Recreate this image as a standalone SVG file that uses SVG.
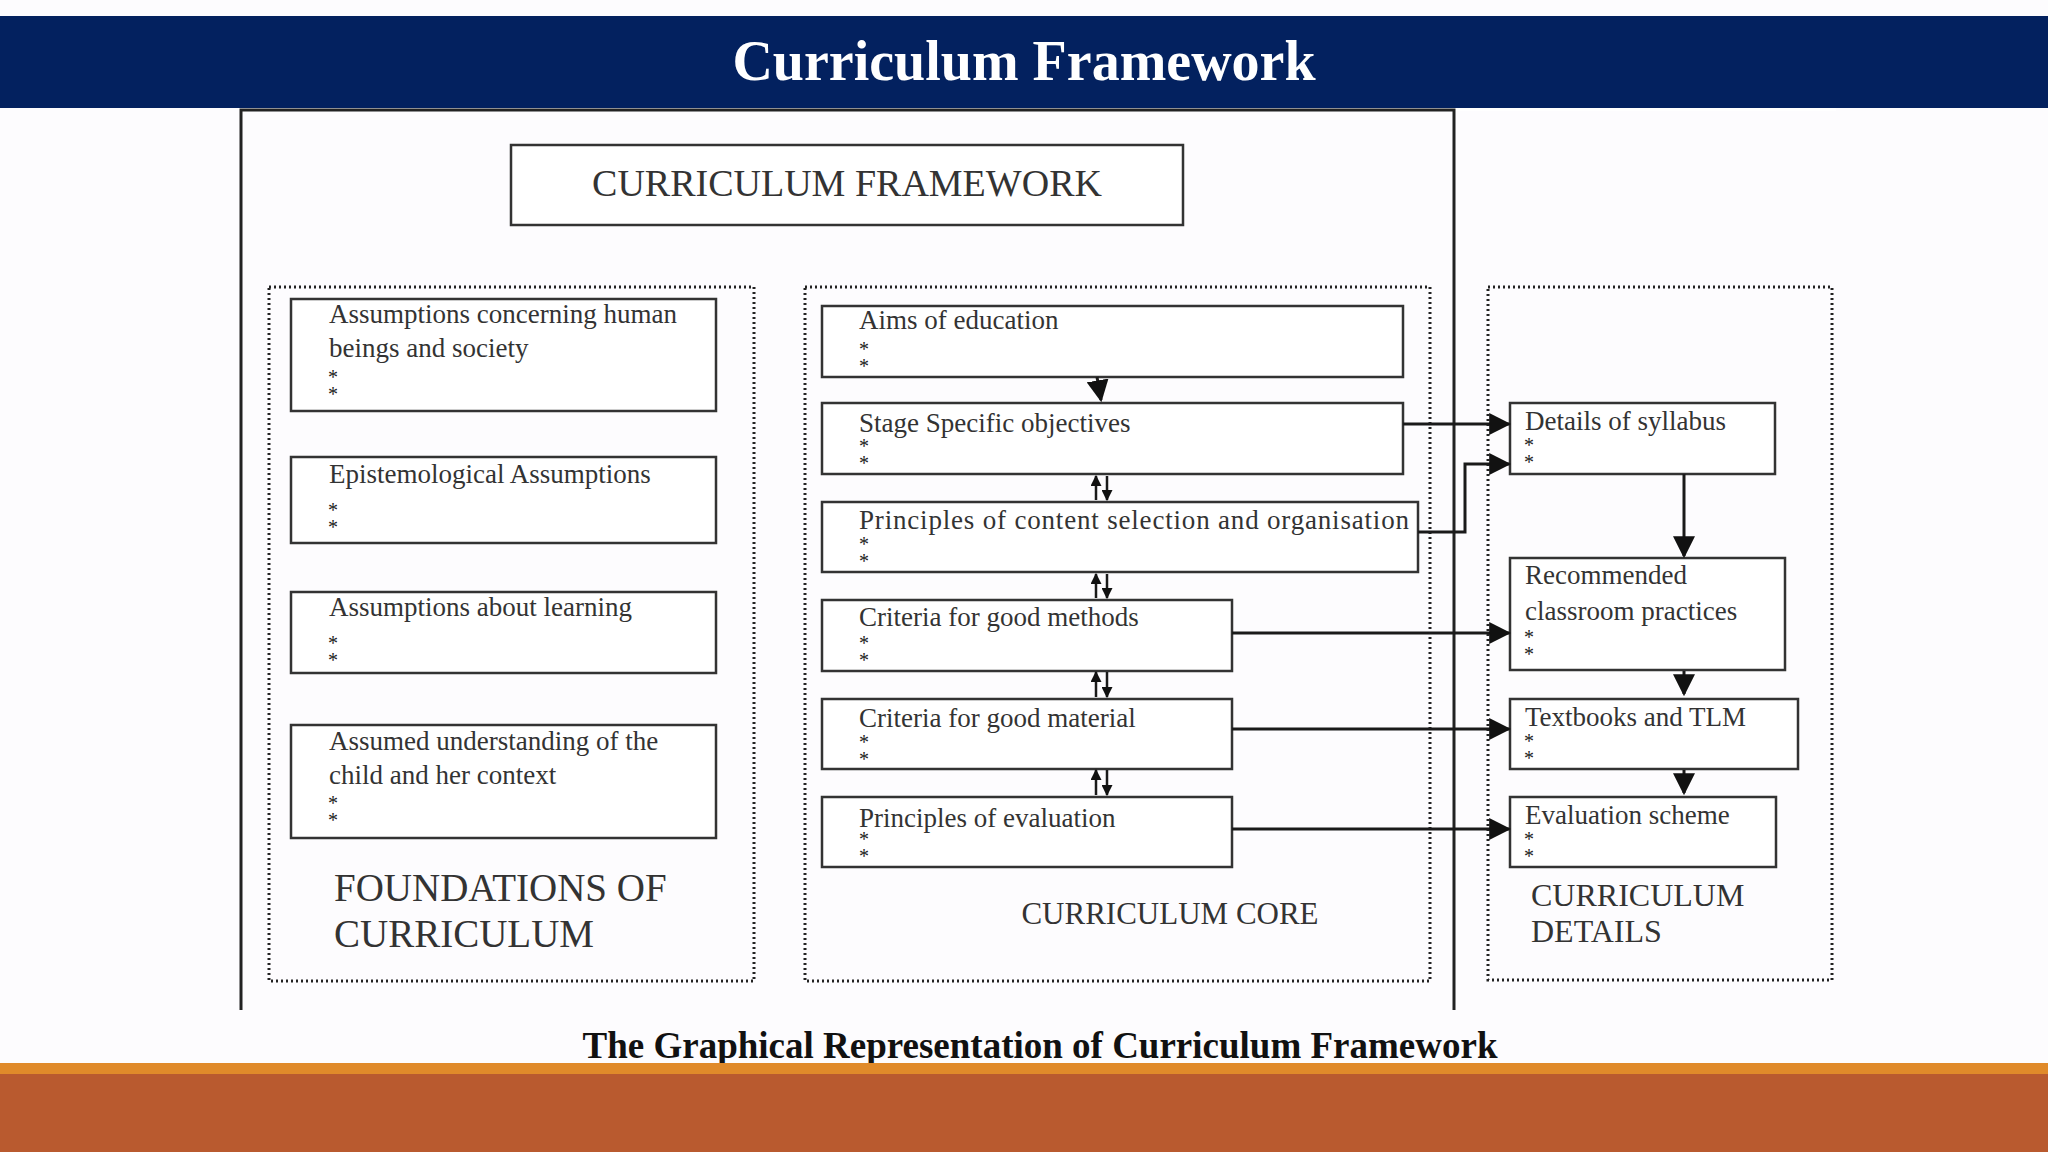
<svg xmlns="http://www.w3.org/2000/svg" width="2048" height="1152" viewBox="0 0 2048 1152">
<defs>
<style>
.b{fill:#fff;stroke:#333;stroke-width:2.5}
.d{fill:none;stroke:#222;stroke-width:3;stroke-dasharray:2 3}
.t{font-family:"Liberation Serif",serif;font-size:27px;fill:#333}
.s{font-family:"Liberation Serif",serif;font-size:20px;fill:#222}
.L{font-family:"Liberation Serif",serif;fill:#333}
.c{fill:none;stroke:#1a1a1a;stroke-width:3}
.v{fill:none;stroke:#1a1a1a;stroke-width:2.5}
</style>
<marker id="a" viewBox="0 0 10 10" refX="9" refY="5" markerWidth="22" markerHeight="22" markerUnits="userSpaceOnUse" orient="auto"><path d="M0,0L10,5L0,10z" fill="#111"/></marker>
<marker id="A" viewBox="0 0 10 10" refX="9" refY="5" markerWidth="11" markerHeight="11" markerUnits="userSpaceOnUse" orient="auto"><path d="M0,0L10,5L0,10z" fill="#111"/></marker>
</defs>
<rect width="2048" height="1152" fill="#fdfcfe"/>
<rect y="16" width="2048" height="92" fill="#03215f"/>
<text x="1024" y="80" text-anchor="middle" font-family="Liberation Serif,serif" font-weight="bold" font-size="56" fill="#fff">Curriculum Framework</text>
<rect x="240" y="108" width="1596" height="3" fill="#fff"/>
<path d="M241,1010V110H1454V1010" fill="none" stroke="#222" stroke-width="3"/>
<g id="title"><rect x="511" y="145" width="672" height="80" class="b" stroke-width="3.5"/><text x="847" y="196" text-anchor="middle" class="L" font-size="38">CURRICULUM FRAMEWORK</text></g>
<g id="foundations">
<rect x="269" y="287" width="485" height="694" class="d"/>
<text x="334" y="901" class="L" font-size="39">FOUNDATIONS OF</text>
<text x="334" y="947" class="L" font-size="39">CURRICULUM</text>
</g>
<g id="f1"><rect x="291" y="299" width="425" height="112" class="b"/><text x="329" y="323" class="t">Assumptions concerning human</text><text x="329" y="357" class="t">beings and society</text><text x="328" y="384" class="s">*</text><text x="328" y="401" class="s">*</text></g>
<g id="f2"><rect x="291" y="457" width="425" height="86" class="b"/><text x="329" y="483" class="t">Epistemological Assumptions</text><text x="328" y="517" class="s">*</text><text x="328" y="534" class="s">*</text></g>
<g id="f3"><rect x="291" y="592" width="425" height="81" class="b"/><text x="329" y="616" class="t">Assumptions about learning</text><text x="328" y="650" class="s">*</text><text x="328" y="667" class="s">*</text></g>
<g id="f4"><rect x="291" y="725" width="425" height="113" class="b"/><text x="329" y="750" class="t">Assumed understanding of the</text><text x="329" y="784" class="t">child and her context</text><text x="328" y="810" class="s">*</text><text x="328" y="827" class="s">*</text></g>
<g id="core">
<rect x="805" y="287" width="625" height="694" class="d"/>
<text x="1170" y="924" text-anchor="middle" class="L" font-size="31">CURRICULUM CORE</text>
</g>
<g id="c1"><rect x="822" y="306" width="581" height="71" class="b"/><text x="859" y="329" class="t">Aims of education</text><text x="859" y="356" class="s">*</text><text x="859" y="373" class="s">*</text></g>
<g id="c2"><rect x="822" y="403" width="581" height="71" class="b"/><text x="859" y="432" class="t">Stage Specific objectives</text><text x="859" y="453" class="s">*</text><text x="859" y="470" class="s">*</text></g>
<g id="c3"><rect x="822" y="502" width="596" height="70" class="b"/><text x="859" y="529" class="t" textLength="550">Principles of content selection and organisation</text><text x="859" y="551" class="s">*</text><text x="859" y="568" class="s">*</text></g>
<g id="c4"><rect x="822" y="600" width="410" height="71" class="b"/><text x="859" y="626" class="t">Criteria for good methods</text><text x="859" y="650" class="s">*</text><text x="859" y="667" class="s">*</text></g>
<g id="c5"><rect x="822" y="699" width="410" height="70" class="b"/><text x="859" y="727" class="t">Criteria for good material</text><text x="859" y="749" class="s">*</text><text x="859" y="766" class="s">*</text></g>
<g id="c6"><rect x="822" y="797" width="410" height="70" class="b"/><text x="859" y="827" class="t">Principles of evaluation</text><text x="859" y="846" class="s">*</text><text x="859" y="863" class="s">*</text></g>
<g id="details">
<rect x="1488" y="287" width="344" height="693" class="d"/>
<text x="1531" y="906" class="L" font-size="32">CURRICULUM</text>
<text x="1531" y="942" class="L" font-size="32">DETAILS</text>
</g>
<g id="d1"><rect x="1510" y="403" width="265" height="71" class="b"/><text x="1525" y="430" class="t" font-size="29">Details of syllabus</text><text x="1524" y="452" class="s">*</text><text x="1524" y="469" class="s">*</text></g>
<g id="d2"><rect x="1510" y="558" width="275" height="112" class="b"/><text x="1525" y="584" class="t" font-size="29">Recommended</text><text x="1525" y="620" class="t" font-size="29">classroom practices</text><text x="1524" y="644" class="s">*</text><text x="1524" y="661" class="s">*</text></g>
<g id="d3"><rect x="1510" y="699" width="288" height="70" class="b"/><text x="1525" y="726" class="t" font-size="29">Textbooks and TLM</text><text x="1524" y="748" class="s">*</text><text x="1524" y="765" class="s">*</text></g>
<g id="d4"><rect x="1510" y="797" width="266" height="70" class="b"/><text x="1525" y="824" class="t" font-size="29">Evaluation scheme</text><text x="1524" y="846" class="s">*</text><text x="1524" y="863" class="s">*</text></g>
<g id="connectors">
<path class="c" d="M1097,377L1101,400" marker-end="url(#a)"/>
<path class="v" d="M1096,500V476" marker-end="url(#A)"/>
<path class="v" d="M1107,476V500" marker-end="url(#A)"/>
<path class="v" d="M1096,598V574" marker-end="url(#A)"/>
<path class="v" d="M1107,574V598" marker-end="url(#A)"/>
<path class="v" d="M1096,697V672" marker-end="url(#A)"/>
<path class="v" d="M1107,672V697" marker-end="url(#A)"/>
<path class="v" d="M1096,795V770" marker-end="url(#A)"/>
<path class="v" d="M1107,770V795" marker-end="url(#A)"/>
<path class="c" d="M1403,424H1509" marker-end="url(#a)"/>
<path class="c" d="M1418,532H1465V464H1509" marker-end="url(#a)"/>
<path class="c" d="M1232,633H1509" marker-end="url(#a)"/>
<path class="c" d="M1232,729H1509" marker-end="url(#a)"/>
<path class="c" d="M1232,829H1509" marker-end="url(#a)"/>
<path class="c" d="M1684,474V556" marker-end="url(#a)"/>
<path class="c" d="M1684,671V694" marker-end="url(#a)"/>
<path class="c" d="M1684,770V793" marker-end="url(#a)"/>
</g>
<text x="1040" y="1058" text-anchor="middle" font-family="Liberation Serif,serif" font-weight="bold" font-size="37" fill="#111">The Graphical Representation of Curriculum Framework</text>
<rect y="1063" width="2048" height="11" fill="#e08a2a"/>
<rect y="1074" width="2048" height="78" fill="#b95a2f"/>
</svg>
